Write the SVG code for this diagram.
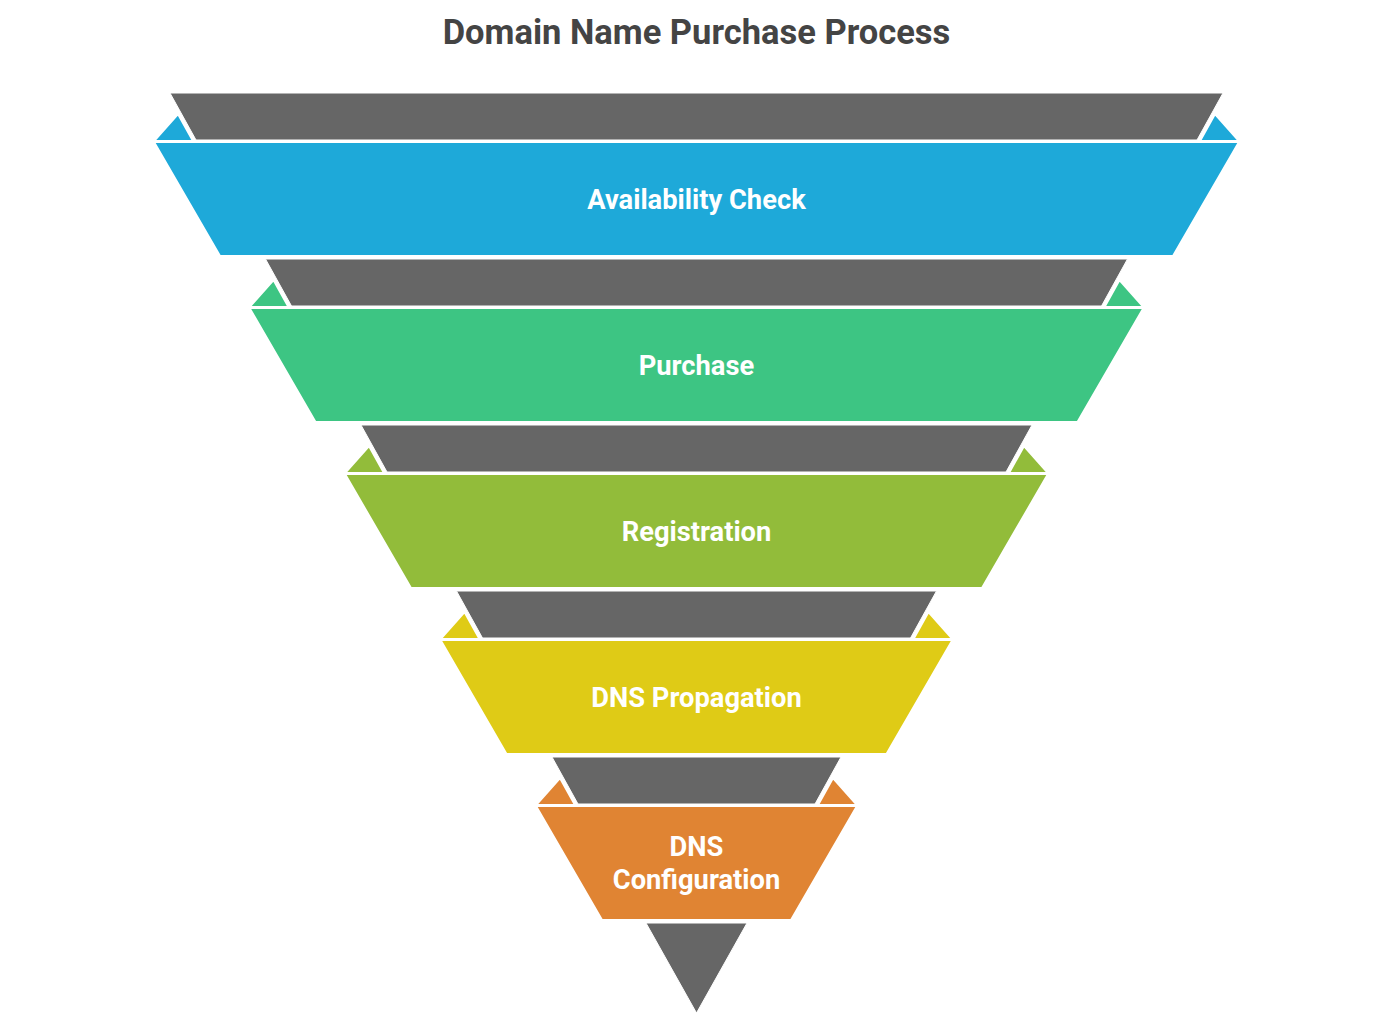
<svg xmlns="http://www.w3.org/2000/svg" width="1400" height="1024" viewBox="0 0 1400 1024">
<style>
.bg{fill:#ffffff}
.title{font-family:Roboto,"Liberation Sans",sans-serif;font-weight:700;font-size:34.5px;fill:#444444;text-anchor:middle}
.lbl{font-family:Roboto,"Liberation Sans",sans-serif;font-weight:700;font-size:27.3px;fill:#ffffff;text-anchor:middle}
.back{fill:#666666;stroke:#ffffff;stroke-width:1}
.face{stroke:#ffffff;stroke-width:2;stroke-linejoin:miter}
.c1{fill:#1EA9D9}
.c2{fill:#3DC583}
.c3{fill:#92BC3A}
.c4{fill:#DFCB16}
.c5{fill:#E08433}
</style>
<rect class="bg" x="0" y="0" width="1400" height="1024"/>
<text class="title" x="696.5" y="44">Domain Name Purchase Process</text>

<g id="stage1">
<polygon class="back" points="170,93 1223,93 1197,140 196,140"/>
<polygon class="face c1" points="154,141 178,114 193,141"/>
<polygon class="face c1" points="1239,141 1215,114 1200,141"/>
<polygon class="face c1" points="154,142 1239,142 1173,256 220,256"/>
<text class="lbl" x="696.5" y="209">Availability Check</text>
</g>

<g id="stage2">
<polygon class="back" points="265.5,259 1127.5,259 1101.5,306 291.5,306"/>
<polygon class="face c2" points="249.5,307 273.5,280 288.5,307"/>
<polygon class="face c2" points="1143.5,307 1119.5,280 1104.5,307"/>
<polygon class="face c2" points="249.5,308 1143.5,308 1077.5,422 315.5,422"/>
<text class="lbl" x="696.5" y="375">Purchase</text>
</g>

<g id="stage3">
<polygon class="back" points="361,425 1032,425 1006,472 387,472"/>
<polygon class="face c3" points="345,473 369,446 384,473"/>
<polygon class="face c3" points="1048,473 1024,446 1009,473"/>
<polygon class="face c3" points="345,474 1048,474 982,588 411,588"/>
<text class="lbl" x="696.5" y="541">Registration</text>
</g>

<g id="stage4">
<polygon class="back" points="456.5,591 936.5,591 910.5,638 482.5,638"/>
<polygon class="face c4" points="440.5,639 464.5,612 479.5,639"/>
<polygon class="face c4" points="952.5,639 928.5,612 913.5,639"/>
<polygon class="face c4" points="440.5,640 952.5,640 886.5,754 506.5,754"/>
<text class="lbl" x="696.5" y="707">DNS Propagation</text>
</g>

<g id="stage5">
<polygon class="back" points="552,757 841,757 815,804 578,804"/>
<polygon class="face c5" points="536,805 560,778 575,805"/>
<polygon class="face c5" points="857,805 833,778 818,805"/>
<polygon class="face c5" points="536,806 857,806 791,920 602,920"/>
<text class="lbl" x="696.5" y="856">DNS</text>
<text class="lbl" x="696.5" y="889">Configuration</text>
</g>

<g id="tip">
<polygon class="back" points="646,923 747,923 696.5,1013"/>
</g>
<g id="connectors"></g>
</svg>
